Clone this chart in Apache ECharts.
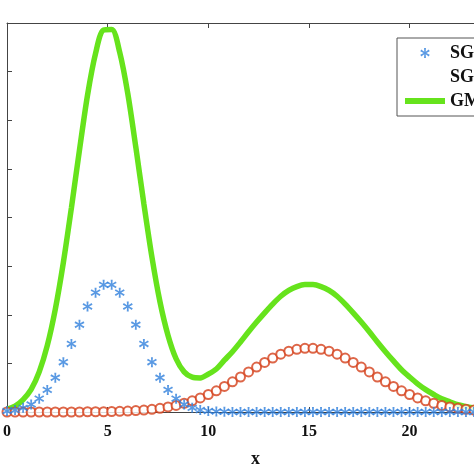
<!DOCTYPE html>
<html><head><meta charset="utf-8">
<script src="https://cdn.jsdelivr.net/npm/echarts@6/dist/echarts.min.js"></script>
<style>html,body{margin:0;padding:0;background:#fff}#c{width:474px;height:474px}</style>
</head><body><div id="c"></div>
<script>
// sample positions on x
const xs = [0,0.4,0.8,1.2,1.6,2.0,2.4,2.8,3.2,3.6,4.0,4.4,4.8,5.2,5.6,6.0,6.4,6.8,7.2,7.6,8.0,8.4,8.8,9.2,9.6,10.0,
  10.4,10.8,11.2,11.6,12.0,12.4,12.8,13.2,13.6,14.0,14.4,14.8,15.2,15.6,16.0,16.4,16.8,17.2,17.6,18.0,18.4,18.8,
  19.2,19.6,20.0,20.4,20.8,21.2,21.6,22.0,22.4,22.8,23.2]
const sgm1 = [0.0004,0.0008,0.0017,0.0031,0.0055,0.0091,0.0141,0.0205,0.0280,0.0359,0.0434,0.0491,0.0523,0.0523,0.0491,0.0434,0.0359,0.0280,0.0205,0.0141,0.0091,0.0055,0.0031,0.0017,0.0008,0.0004,
  0.0002,0.0001,0,0,0,0,0,0,0,0,0,0,0,0,0,0,0,0,0,0,0,0,0,0,0,0,0,0,0,0,0,0,0]
const sgm2 = [0,0,0,0,0,0,0,0,0,0,0.0001,0.0001,0.0001,0.0002,0.0003,0.0004,0.0006,0.0008,0.0011,0.0015,0.0021,0.0027,0.0036,0.0046,0.0058,0.0072,
  0.0087,0.0105,0.0124,0.0144,0.0165,0.0185,0.0204,0.0222,0.0238,0.0250,0.0258,0.0262,0.0262,0.0258,0.0250,0.0238,0.0222,0.0204,0.0185,0.0165,0.0144,0.0124,
  0.0105,0.0087,0.0072,0.0058,0.0046,0.0036,0.0027,0.0021,0.0015,0.0011,0.0008]
const gmm = [0.0012,0.0024,0.0051,0.0093,0.0165,0.0273,0.0423,0.0615,0.0840,0.1077,0.1303,0.1475,0.1571,0.1573,0.1479,0.1310,0.1089,0.0856,0.0637,0.0453,0.0315,0.0219,0.0165,0.0143,0.0140,0.0156,
  0.0177,0.0213,0.0248,0.0288,0.0330,0.0370,0.0408,0.0444,0.0476,0.0500,0.0516,0.0524,0.0524,0.0516,0.0500,0.0476,0.0444,0.0408,0.0370,0.0330,0.0288,0.0248,
  0.0210,0.0174,0.0144,0.0116,0.0092,0.0072,0.0054,0.0042,0.0030,0.0022,0.0016]
const names = ['SGM1','SGM2','GMM']

const pair = ys => xs.map((x,i) => [x, ys[i]])
const font = 'Liberation Serif'
const star = 'path://M4.2,0H5.8L5.6,3.1L8.2,1.3L9,2.7L6.2,4.2L9,5.8L8.2,7.2L5.6,5.4L5.8,8.5H4.2L4.4,5.4L1.8,7.2L1,5.8L3.8,4.2L1,2.7L1.8,1.3L4.4,3.1Z'
const lineIcon = 'path://M0,0H40V6H0Z'

const chart = echarts.init(document.getElementById('c'))
chart.setOption({
  animation: false,
  grid: { left: 6, top: 23, right: 0, bottom: 62 },
  legend: {
    data: [
      { name: names[0], icon: star, itemStyle: { color: '#2f80dc' } },
      { name: names[1], icon: 'emptyCircle', itemStyle: { color: '#fff', borderColor: '#d4401a', borderWidth: 2 } },
      { name: names[2], icon: lineIcon, itemStyle: { color: '#66e31c' } }
    ],
    orient: 'vertical', left: 397, top: 38,
    backgroundColor: '#fff', borderColor: '#555', borderWidth: 1, borderRadius: 0,
    padding: [6, 8], itemGap: 6, itemWidth: 40, itemHeight: 10,
    textStyle: { fontFamily: font, fontWeight: 'bold', fontSize: 18, color: '#111' }
  },
  xAxis: [{
    type: 'value', min: 0, max: 23.2, interval: 5,
    name: 'x', nameLocation: 'middle', nameGap: 38,
    nameTextStyle: { fontFamily: font, fontWeight: 'bold', fontSize: 18, color: '#111', padding: [0, 0, 0, 30] },
    axisLine: { lineStyle: { color: '#444' } },
    axisTick: { inside: true, length: 5, lineStyle: { color: '#444' } },
    axisLabel: { fontFamily: font, fontWeight: 'bold', fontSize: 16, color: '#111', margin: 12, showMaxLabel: false },
    splitLine: { show: false }
  }, {
    type: 'value', position: 'top', min: 0, max: 23.2, interval: 5,
    axisLine: { show: true, lineStyle: { color: '#444' } },
    axisTick: { inside: true, length: 5, lineStyle: { color: '#444' } },
    axisLabel: { show: false }, splitLine: { show: false }
  }],
  yAxis: {
    type: 'value', min: 0, max: 0.16, interval: 0.02,
    axisLine: { show: true, lineStyle: { color: '#444' } },
    axisTick: { inside: true, length: 5, lineStyle: { color: '#444' } },
    axisLabel: { show: false }, splitLine: { show: false }
  },
  series: [
    { name: names[2], type: 'line', data: pair(gmm), smooth: 0.3, showSymbol: false, symbol: 'none',
      lineStyle: { color: '#66e31c', width: 5.5 }, itemStyle: { color: '#66e31c' }, z: 1 },
    { name: names[0], type: 'scatter', data: pair(sgm1), symbol: star, symbolSize: 10,
      itemStyle: { color: '#2f80dc' }, z: 3 },
    { name: names[1], type: 'scatter', data: pair(sgm2), symbol: 'circle', symbolSize: 9,
      itemStyle: { color: '#fff', borderColor: '#d4401a', borderWidth: 2 }, z: 2 }
  ]
})
</script></body></html>
